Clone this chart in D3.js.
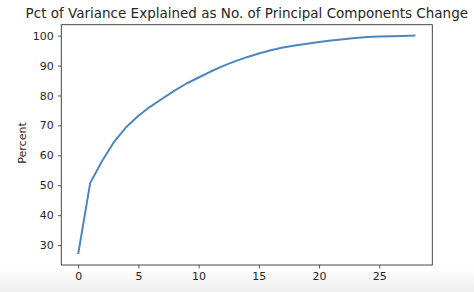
<!DOCTYPE html>
<html>
<head>
<meta charset="utf-8">
<script src="https://cdn.jsdelivr.net/npm/d3@7"></script>
<style>
  body { margin: 0; background: #fff; }
  text { font-family: "DejaVu Sans", sans-serif; fill: #262626; }
</style>
</head>
<body>
<script>
const [w, h] = [474, 292];
const margin = { top: 24.7, right: 41.7, bottom: 27, left: 61.3 };

// cumulative variance explained (%) per number of components
const components = d3.range(0, 29);
const percent = [27.0, 50.8, 58.2, 64.6, 69.5, 73.2, 76.3, 79.0, 81.6, 84.0,
  86.0, 88.0, 89.8, 91.4, 92.8, 94.0, 95.1, 96.0, 96.7, 97.3,
  97.9, 98.4, 98.8, 99.2, 99.5, 99.7, 99.8, 99.9, 100.0];
const xTicks = [0, 5, 10, 15, 20, 25];
const yTicks = [30, 40, 50, 60, 70, 80, 90, 100];

const svg = d3.select('body').append('svg')
  .attr('width', w)
  .attr('height', h);

// screenshot-ish grey band at the bottom
const grad = svg.append('defs').append('linearGradient')
  .attr('id', 'band').attr('x1', 0).attr('x2', 0).attr('y1', 0).attr('y2', 1);
grad.append('stop').attr('offset', '0%').attr('stop-color', '#ffffff');
grad.append('stop').attr('offset', '100%').attr('stop-color', '#ededed');
svg.append('rect').attr('x', 0).attr('y', 268).attr('width', w).attr('height', h - 268)
  .attr('fill', 'url(#band)');

const x = d3.scaleLinear().domain([-1.4, 29.4]).range([margin.left, w - margin.right]);
const y = d3.scaleLinear().domain([23.35, 103.65]).range([h - margin.bottom, margin.top]);

const xAxis = svg.append('g')
  .attr('transform', `translate(0, ${h - margin.bottom})`)
  .call(d3.axisBottom(x).tickValues(xTicks).tickSize(3.5).tickPadding(4).tickFormat(d3.format('d')));
const yAxis = svg.append('g')
  .attr('transform', `translate(${margin.left}, 0)`)
  .call(d3.axisLeft(y).tickValues(yTicks).tickSize(3.5).tickPadding(4).tickFormat(d3.format('d')));

[xAxis, yAxis].forEach(a => {
  a.select('.domain').remove();
  a.selectAll('line').attr('stroke', '#333').attr('stroke-width', 0.8);
  a.selectAll('text').attr('font-size', 11).attr('font-family', 'DejaVu Sans').attr('fill', '#262626');
});

svg.append('rect')
  .attr('x', margin.left)
  .attr('y', margin.top)
  .attr('width', w - margin.left - margin.right)
  .attr('height', h - margin.top - margin.bottom)
  .attr('fill', 'none')
  .attr('stroke', '#333')
  .attr('stroke-width', 0.9);

const line = d3.line()
  .x((d, i) => x(components[i]))
  .y(d => y(d));

svg.append('path')
  .datum(percent)
  .attr('d', line)
  .attr('fill', 'none')
  .attr('stroke', '#4d86be')
  .attr('stroke-width', 2)
  .attr('stroke-linejoin', 'round');

svg.append('text')
  .attr('x', (margin.left + w - margin.right) / 2)
  .attr('y', 18)
  .attr('text-anchor', 'middle')
  .attr('font-size', 13.5)
  .text('Pct of Variance Explained as No. of Principal Components Change');

svg.append('text')
  .attr('transform', `translate(25.5, 143) rotate(-90)`)
  .attr('text-anchor', 'middle')
  .attr('font-size', 11)
  .text('Percent');
</script>
</body>
</html>
